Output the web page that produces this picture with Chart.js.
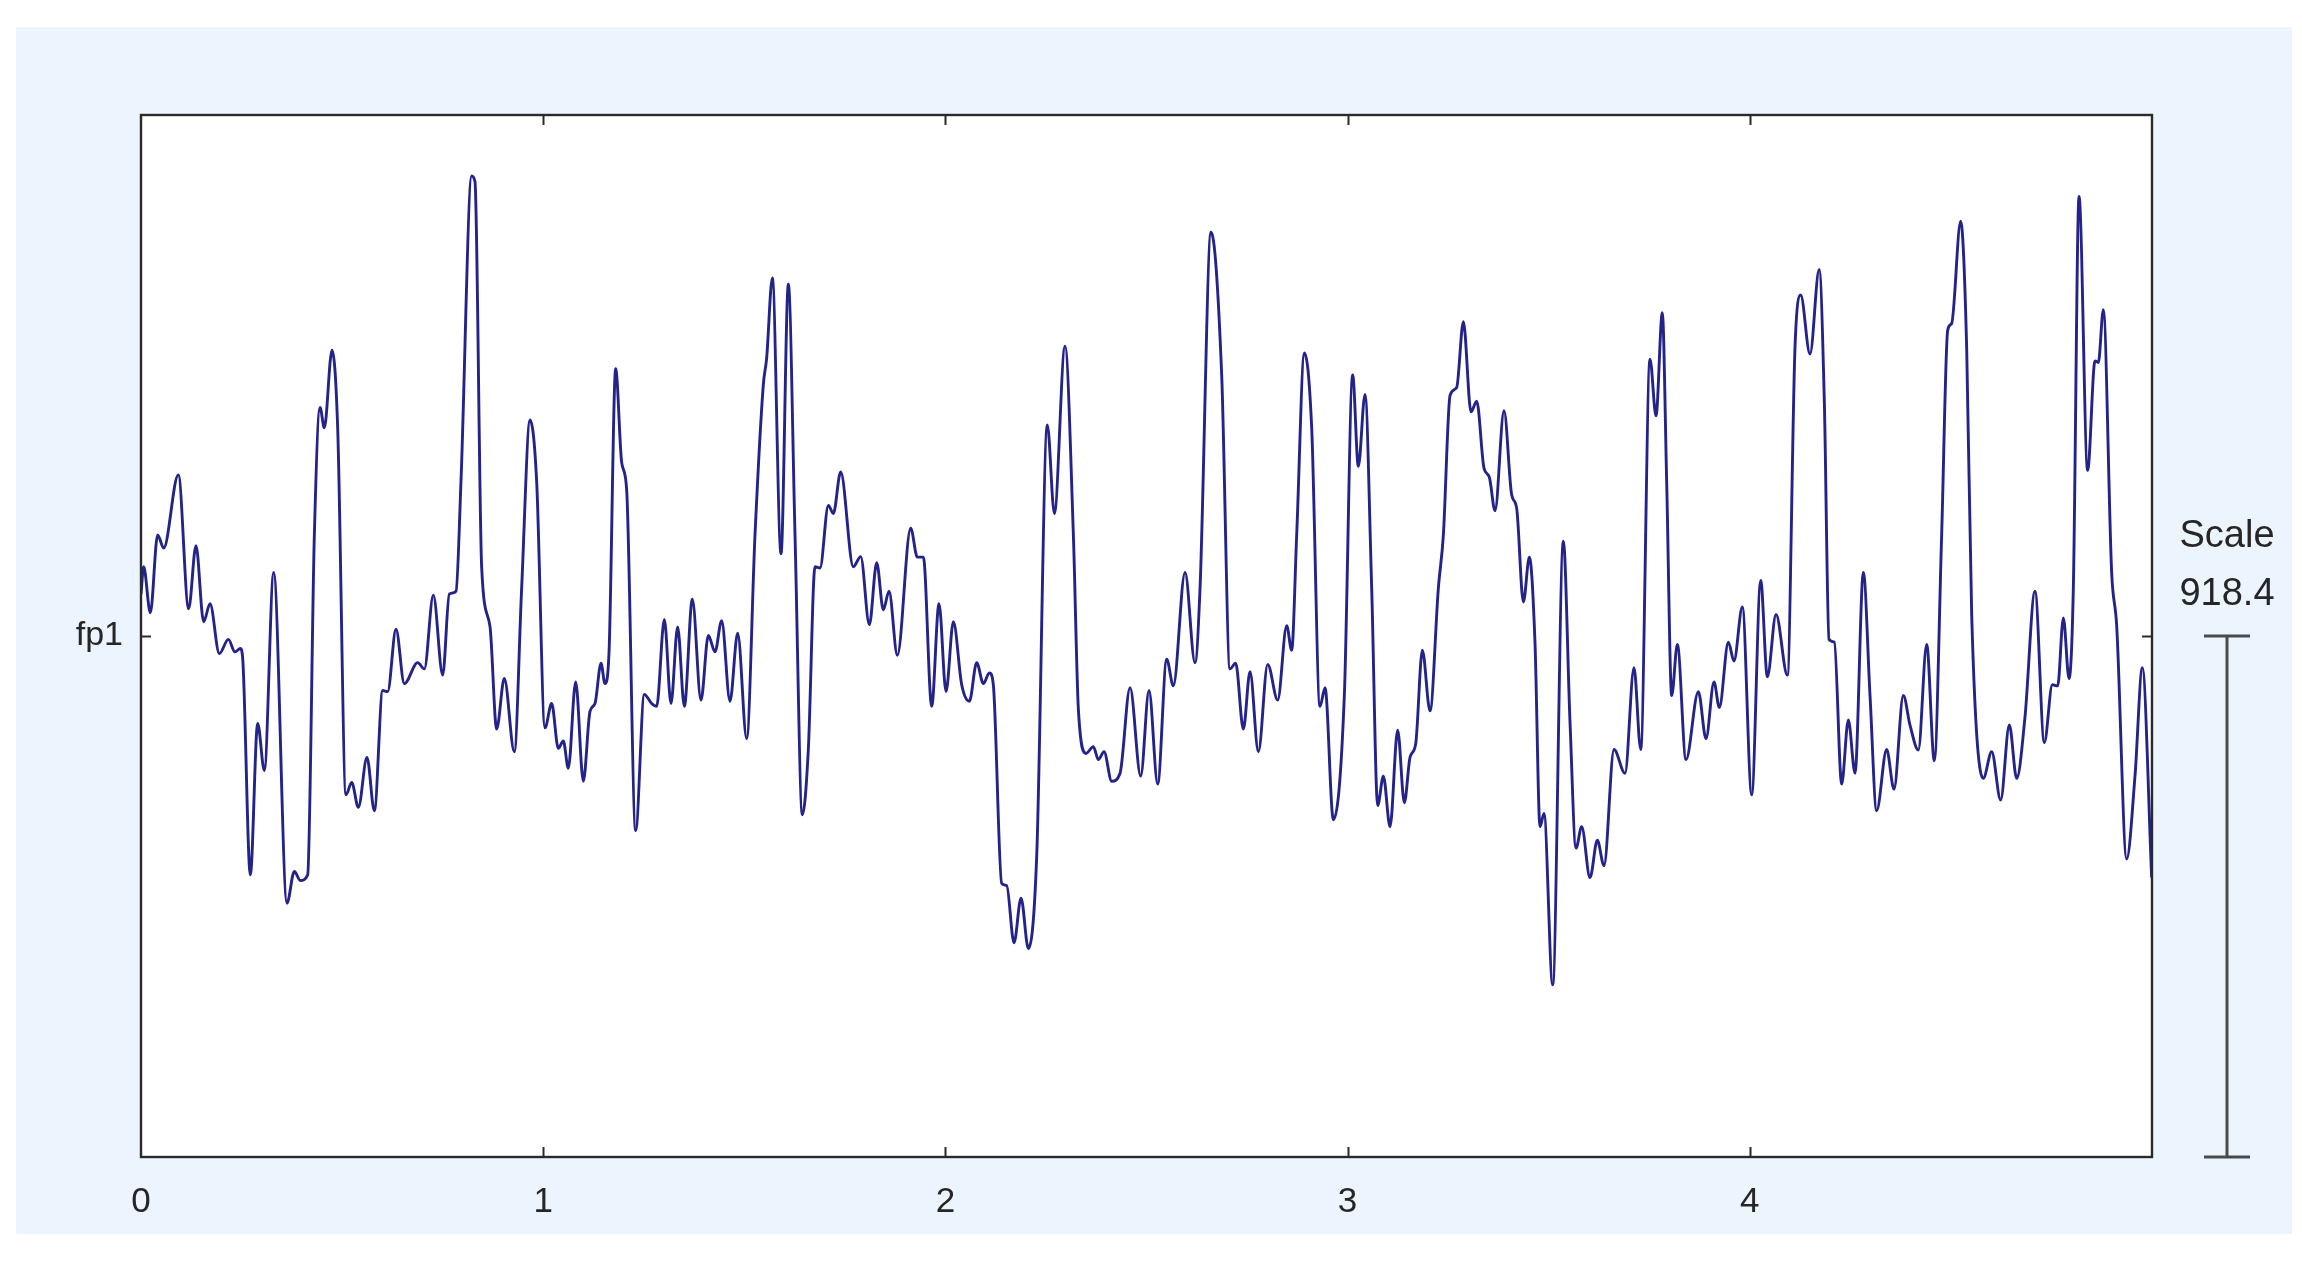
<!DOCTYPE html>
<html>
<head>
<meta charset="utf-8">
<script src="https://cdn.jsdelivr.net/npm/chart.js@4.4.0/dist/chart.umd.min.js"></script>
<style>
  html, body { margin: 0; padding: 0; background: #ffffff; width: 2302px; height: 1263px; overflow: hidden; }
  #panel { position: absolute; left: 16px; top: 27px; width: 2276px; height: 1207px; background: rgb(236,244,253); }
  canvas { display: block; }
</style>
</head>
<body>
<div id="panel"><canvas id="c" width="2276" height="1207"></canvas></div>
<script>
// ---- data (time in s, amplitude in µV) ----
const channelName = "fp1";
const scaleValue = 918.4;
const xTickValues = [0, 1, 2, 3, 4];
const xMax = 5;

const sampleTimes = [
  0, 0.0066, 0.0232, 0.0414, 0.0564, 0.0928, 0.1185, 0.1367, 0.1558, 0.1716,
  0.1948, 0.2171, 0.2337, 0.2470, 0.2528, 0.2718, 0.2901, 0.3066, 0.3299, 0.3630,
  0.3812, 0.3962, 0.4144, 0.4310, 0.4451, 0.4558, 0.4749, 0.4890, 0.5097, 0.5238,
  0.5404, 0.5619, 0.5802, 0.6009, 0.6133, 0.6340, 0.6547, 0.6879, 0.7045, 0.7268,
  0.7501, 0.7666, 0.7832, 0.7956, 0.8221,
  0.8304, 0.8470, 0.8677, 0.8843, 0.9033, 0.9282, 0.9464, 0.9672, 0.9837, 1.0044,
  1.0210, 1.0376, 1.0500, 1.0625, 1.0807, 1.0998, 1.1163, 1.1288, 1.1437, 1.1536,
  1.1636, 1.1802, 1.1951, 1.2075, 1.2299, 1.2514, 1.2697, 1.2821, 1.3012, 1.3177,
  1.3343, 1.3509, 1.3708, 1.3923, 1.4106, 1.4271, 1.4437, 1.4644, 1.4835, 1.5059,
  1.5266, 1.5473, 1.5556, 1.5697, 1.5913, 1.6095, 1.6261, 1.6443, 1.6592,
  1.6758, 1.6883, 1.7090, 1.7214, 1.7396, 1.7711, 1.7894, 1.8109, 1.8292, 1.8457,
  1.8598, 1.8805, 1.9137, 1.9303, 1.9452, 1.9659, 1.9841, 2.0016, 2.0198, 2.0405,
  2.0596, 2.0778, 2.0944, 2.1093, 2.1192, 2.1399, 2.1524, 2.1706, 2.1880, 2.2063,
  2.2270, 2.2535, 2.2709, 2.2974, 2.3182, 2.3306, 2.3497, 2.3679, 2.3803, 2.3944,
  2.4135, 2.4342, 2.4591, 2.4856,
  2.5062, 2.5278, 2.5502, 2.5667, 2.5958, 2.6206, 2.6331, 2.6604, 2.6869, 2.7076,
  2.7217, 2.7408, 2.7574, 2.7781, 2.8013, 2.8262, 2.8485, 2.8610, 2.8734, 2.8925,
  2.9107, 2.9314, 2.9439, 2.9646, 2.9919, 3.0126, 3.0267, 3.0433, 3.0599, 3.0748,
  3.0889, 3.1055, 3.1245, 3.1411, 3.1552, 3.1693, 3.1859, 3.2049, 3.2256, 3.2381,
  3.2547, 3.2712, 3.2878, 3.3069, 3.3210,
  3.3391, 3.3524, 3.3665, 3.3889, 3.4079, 3.4204, 3.4370, 3.4519, 3.4659, 3.4784,
  3.4883, 3.5099, 3.5364, 3.5530, 3.5679, 3.5820, 3.6027, 3.6209, 3.6375, 3.6624,
  3.6897, 3.7121, 3.7287, 3.7519, 3.7668, 3.7825, 3.7933, 3.8058, 3.8199, 3.8414,
  3.8721, 3.8911, 3.9110, 3.9243, 3.9467, 3.9607, 3.9815, 4.0047, 4.0271, 4.0436,
  4.0652, 4.0934, 4.1124, 4.1265, 4.1497, 4.1725,
  4.1853, 4.1969, 4.2102, 4.2284, 4.2450, 4.2616, 4.2823, 4.2989, 4.3154, 4.3403,
  4.3585, 4.3817, 4.3983, 4.4190, 4.4398, 4.4588, 4.4770, 4.4920, 4.5019, 4.5243,
  4.5392, 4.5517, 4.5806, 4.6014, 4.6237, 4.6453, 4.6635, 4.6842, 4.7091, 4.7323,
  4.7522, 4.7655, 4.7796, 4.7937, 4.8044, 4.8185, 4.8400, 4.8583, 4.8666, 4.8790,
  4.8997, 4.9122, 4.9370, 4.9577, 4.9760, 4.9992
];

const fp1Values = [
  74, 122, 41, 178, 155, 284, 48, 159, 25, 57,
  -31, -6, -28, -22, -39, -421, -154, -237, 112, -471,
  -415, -431, -421, 178, 403, 367, 504, 367, -280, -258,
  -302, -214, -308, -96, -98, 12, -84, -47, -58, 72,
  -69, 74, 79, 273, 811,
  801, 121, 17, -164, -75, -204, 84, 381, 273, -162,
  -119, -198, -185, -233, -81, -256, -133, -119, -48, -84,
  -30, 471, 306, 258, -343, -103, -119, -124, 29, -119,
  16, -124, 65, -113, 1, -28, 27, -115, 5, -181,
  178, 443, 490, 631, 145, 620, 178, -315, -200,
  122, 120, 230, 216, 289, 122, 140, 20, 129, 46,
  79, -34, 190, 139, 139, -124, 57, -98, 25, -86,
  -115, -47, -84, -65, -86, -436, -440, -541, -462, -551,
  -388, 372, 216, 511, 178, -129, -207, -195, -218, -204,
  -256, -242, -91, -247,
  -96, -261, -41, -88, 112, -47, 84, 712, 461, -58,
  -48, -164, -63, -204, -50, -113, 18, -25, 178, 499,
  367, -124, -91, -324, -105, 460, 299, 426, 84, -299,
  -247, -336, -166, -294, -214, -190, -25, -132, 84, 178,
  424, 438, 554, 395, 414,
  296, 280, 221, 397, 249, 225, 60, 139, -11, -336,
  -313, -615, 167, -152, -374, -336, -426, -360, -405, -200,
  -242, -56, -200, 488, 388, 570, 273, -105, -15, -218,
  -98, -181, -81, -126, -11, -44, 51, -280, 98, -72,
  38, -69, 509, 601, 497, 646,
  414, -6, -11, -261, -148, -242, 112, -105, -308, -200,
  -270, -105, -157, -201, -15, -220, 178, 539, 551, 731,
  509, 37, -251, -204, -289, -157, -251, -143, 79, -188,
  -86, -88, 32, -75, 84, 775, 292, 485, 482, 575,
  112, 18, -393, -247, -56, -426
];

const points = sampleTimes.map((t, i) => ({ x: t, y: fp1Values[i] }));

const TEXT_COLOR = '#262626';
const FONT_FAMILY = '"Liberation Sans", Arial, sans-serif';

const framePlugin = {
  id: 'frame',
  beforeDatasetsDraw(chart) {
    const { ctx, chartArea: a } = chart;
    ctx.save();
    ctx.fillStyle = '#ffffff';
    ctx.fillRect(a.left, a.top, a.right - a.left, a.bottom - a.top);
    ctx.restore();
  },
  afterDraw(chart) {
    const { ctx, chartArea: a, scales } = chart;
    const xs = scales.x, ys = scales.y;
    ctx.save();
    // box
    ctx.strokeStyle = '#2a2a2a';
    ctx.lineWidth = 2.4;
    ctx.strokeRect(a.left, a.top, a.right - a.left, a.bottom - a.top);
    // inward ticks
    ctx.lineWidth = 2;
    const tl = 10;
    xTickValues.forEach(v => {
      if (v <= xs.min || v >= xs.max) return;
      const px = Math.round(xs.getPixelForValue(v)) + 0.5;
      ctx.beginPath();
      ctx.moveTo(px, a.bottom); ctx.lineTo(px, a.bottom - tl);
      ctx.moveTo(px, a.top); ctx.lineTo(px, a.top + tl);
      ctx.stroke();
    });
    const py = Math.round(ys.getPixelForValue(0)) + 0.5;
    ctx.beginPath();
    ctx.moveTo(a.left, py); ctx.lineTo(a.left + tl, py);
    ctx.moveTo(a.right, py); ctx.lineTo(a.right - tl, py);
    ctx.stroke();

    // scale bar
    const cx = a.right + 75;
    const y0 = ys.getPixelForValue(0);
    const y1 = ys.getPixelForValue(-scaleValue);
    ctx.strokeStyle = '#4a4a4a';
    ctx.lineWidth = 3;
    ctx.beginPath();
    ctx.moveTo(cx, y0); ctx.lineTo(cx, y1);
    ctx.moveTo(cx - 23, y0); ctx.lineTo(cx + 23, y0);
    ctx.moveTo(cx - 23, y1); ctx.lineTo(cx + 23, y1);
    ctx.stroke();

    ctx.fillStyle = TEXT_COLOR;
    ctx.font = '38px ' + FONT_FAMILY;
    ctx.textAlign = 'center';
    ctx.textBaseline = 'alphabetic';
    ctx.fillText('Scale', cx, y0 - 89);
    ctx.fillText(String(scaleValue), cx, y0 - 31);
    ctx.restore();
  }
};

new Chart(document.getElementById('c'), {
  type: 'line',
  data: {
    datasets: [{
      label: channelName,
      data: points,
      borderColor: '#23238a',
      borderWidth: 2.9,
      pointRadius: 0,
      fill: false,
      cubicInterpolationMode: 'monotone'
    }]
  },
  options: {
    responsive: false,
    animation: false,
    devicePixelRatio: 1,
    layout: { padding: { left: 0, top: 88, right: 140, bottom: 0 } },
    plugins: { legend: { display: false }, tooltip: { enabled: false } },
    scales: {
      x: {
        type: 'linear',
        min: 0,
        max: xMax,
        afterBuildTicks(axis) { axis.ticks = xTickValues.concat([xMax]).map(v => ({ value: v })); },
        afterFit(axis) { axis.height = 77; },
        grid: { display: false, drawTicks: false },
        border: { display: false },
        ticks: {
          padding: 24,
          color: TEXT_COLOR,
          font: { family: FONT_FAMILY, size: 35 },
          maxRotation: 0,
          callback: (v) => (v === xMax ? '' : String(v))
        }
      },
      y: {
        type: 'linear',
        min: -scaleValue,
        max: scaleValue,
        afterBuildTicks(axis) { axis.ticks = [{ value: 0 }]; },
        afterFit(axis) { axis.width = 125; },
        grid: { display: false, drawTicks: false },
        border: { display: false },
        ticks: {
          padding: 18,
          color: TEXT_COLOR,
          font: { family: FONT_FAMILY, size: 34 },
          callback: () => channelName
        }
      }
    }
  },
  plugins: [framePlugin]
});
</script>
</body>
</html>
